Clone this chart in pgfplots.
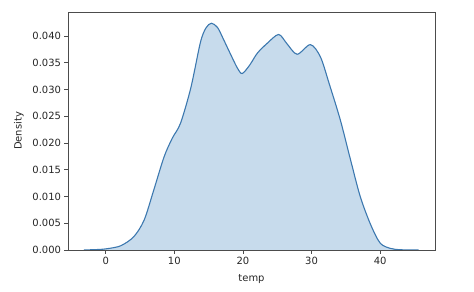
\documentclass[border=0pt]{standalone}
\usepackage{fontspec}
\setmainfont{DejaVu Sans}
\usepackage{pgfplots}
\pgfplotsset{compat=1.18}
\usepackage{pgfplotstable}
\definecolor{cblue}{RGB}{60,120,175}
\definecolor{cfill}{RGB}{199,219,236}
\definecolor{txt}{HTML}{262626}
\pgfplotstableread{
x d
-3.2 0
-1 0.0001
0.25 0.00025
2.2 0.0008
4.1 0.0025
5.6 0.0056
7.0 0.0112
8.5 0.0174
9.7 0.0209
10.9 0.0237
12.4 0.0303
13.8 0.0388
14.6 0.0415
15.4 0.0424
16.3 0.0416
17.2 0.0393
18.2 0.0366
19.2 0.0340
19.9 0.0330
21 0.0346
22.1 0.0368
23.5 0.0386
25.2 0.0403
26.4 0.0386
27.9 0.0366
29.84 0.0384
31.3 0.0361
32.6 0.0310
34.2 0.0243
35.7 0.0168
37.1 0.0100
38.6 0.0048
40.0 0.0013
41.5 0.0003
43 0.00005
45.6 0
}\kde
\begin{document}
\begin{tikzpicture}
\begin{axis}[
  scale only axis,
  width=367bp, height=238bp,
  xmin=-5.5, xmax=48, ymin=0, ymax=0.0445,
  axis line style={black!70, line width=0.8pt},
  xtick={0,10,20,30,40},
  ytick={0,0.005,0.01,0.015,0.02,0.025,0.03,0.035,0.04},
  yticklabel style={/pgf/number format/.cd, fixed, fixed zerofill, precision=3},
  scaled y ticks=false,
  /pgf/number format/assume math mode=true,
  tick align=outside, tick pos=left,
  major tick length=3.5bp,
  tick style={black!70, line width=0.8pt},
  ticklabel style={font=\fontsize{10}{12}\selectfont, text=txt},
  xlabel={temp}, ylabel={Density},
  label style={font=\fontsize{10}{12}\selectfont, text=txt},
  xlabel style={yshift=-3bp},
  ylabel style={yshift=2bp},
  axis on top,
]
\addplot[smooth, draw=none, fill=cfill, tension=0.5] table[x=x,y=d] {\kde} \closedcycle;
\addplot[smooth, draw=cblue, line width=1.1pt, tension=0.5] table[x=x,y=d] {\kde};
\end{axis}
\pgfresetboundingbox
\path (-68bp,-42bp) rectangle (406bp,250bp);
\end{tikzpicture}
\end{document}
